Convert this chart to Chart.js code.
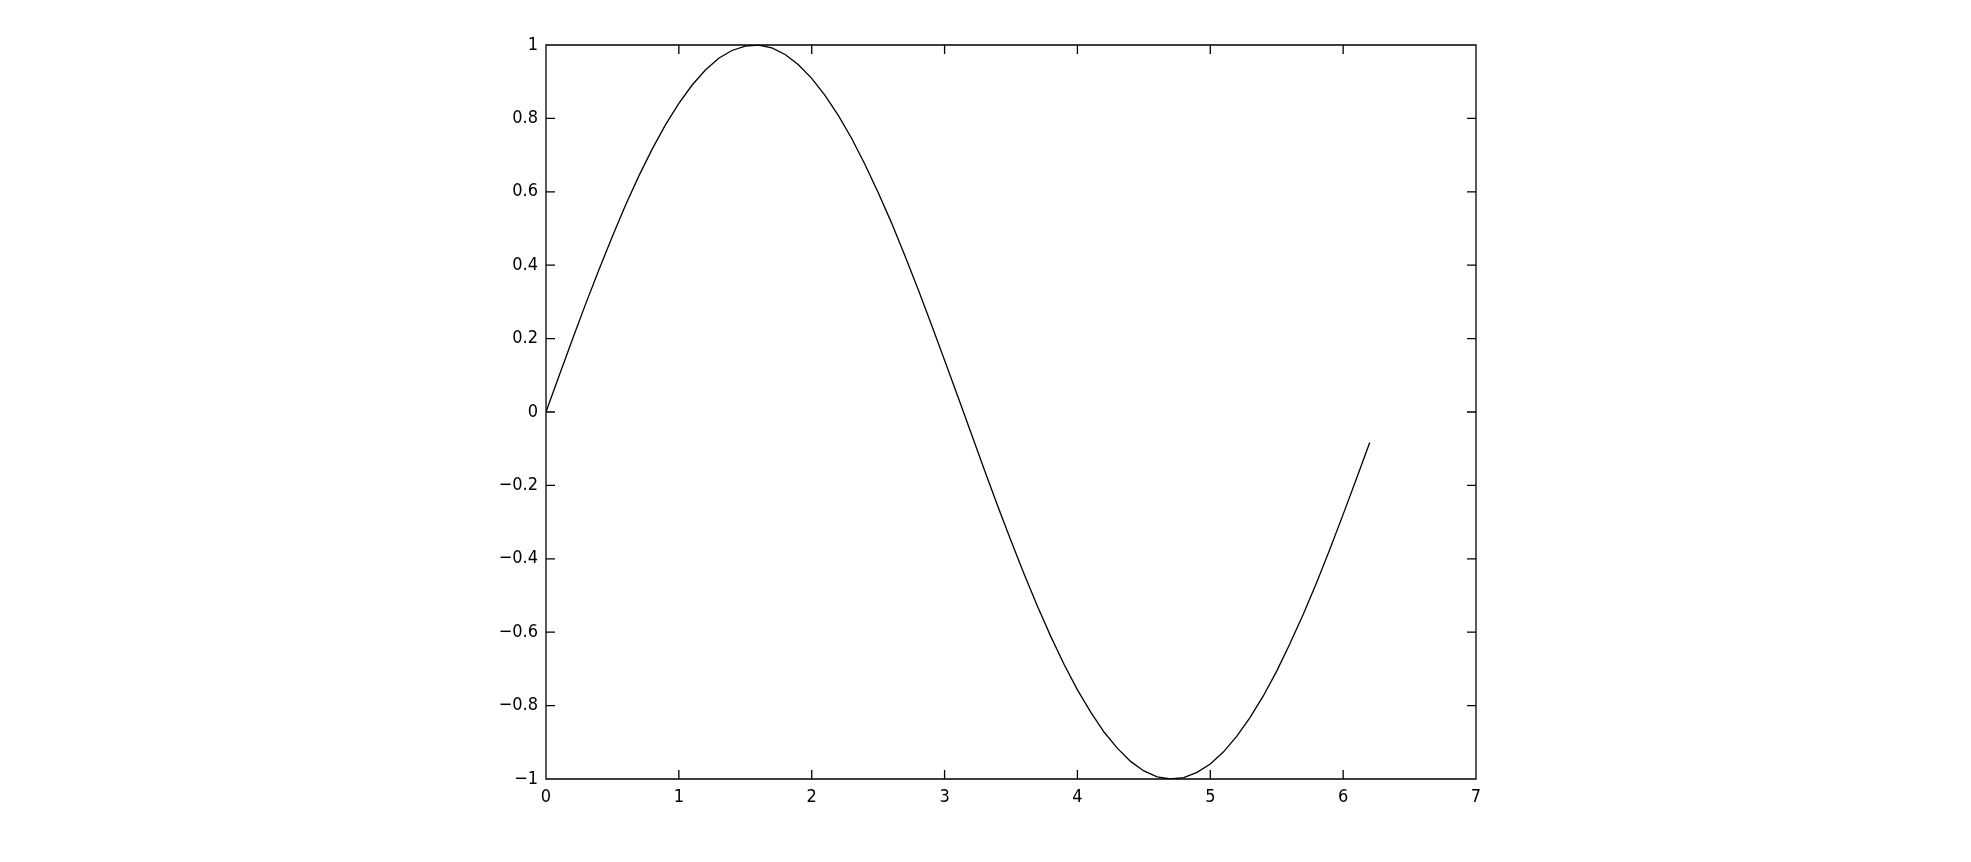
<!DOCTYPE html>
<html>
<head>
<meta charset="utf-8">
<title>sin</title>
<script src="https://cdn.jsdelivr.net/npm/chart.js@4.4.1/dist/chart.umd.min.js"></script>
<style>
    html, body { margin: 0; padding: 0; background: #fff; }
    #wrap { width: 1971px; height: 862px; }
</style>
</head>
<body>
<div id="wrap"><canvas id="plot" width="1971" height="862"></canvas></div>
<script>
// x = 0:0.1:6.2
const xValues = [
    0.0, 0.1, 0.2, 0.3, 0.4, 0.5, 0.6, 0.7, 0.8, 0.9,
    1.0, 1.1, 1.2, 1.3, 1.4, 1.5, 1.6, 1.7, 1.8, 1.9,
    2.0, 2.1, 2.2, 2.3, 2.4, 2.5, 2.6, 2.7, 2.8, 2.9,
    3.0, 3.1, 3.2, 3.3, 3.4, 3.5, 3.6, 3.7, 3.8, 3.9,
    4.0, 4.1, 4.2, 4.3, 4.4, 4.5, 4.6, 4.7, 4.8, 4.9,
    5.0, 5.1, 5.2, 5.3, 5.4, 5.5, 5.6, 5.7, 5.8, 5.9,
    6.0, 6.1, 6.2
];
const yValues = [
    0.000, 0.100, 0.199, 0.296, 0.389, 0.479, 0.565, 0.644, 0.717, 0.783,
    0.841, 0.891, 0.932, 0.964, 0.985, 0.997, 1.000, 0.992, 0.974, 0.946,
    0.909, 0.863, 0.808, 0.746, 0.675, 0.598, 0.516, 0.427, 0.335, 0.239,
    0.141, 0.042, -0.058, -0.158, -0.256, -0.351, -0.443, -0.530, -0.612, -0.688,
    -0.757, -0.818, -0.872, -0.916, -0.952, -0.978, -0.994, -1.000, -0.996, -0.982,
    -0.959, -0.926, -0.883, -0.832, -0.773, -0.706, -0.631, -0.551, -0.465, -0.374,
    -0.279, -0.182, -0.083
];

const xTicks = [0, 1, 2, 3, 4, 5, 6, 7];
const xTickLabels = ['0', '1', '2', '3', '4', '5', '6', '7'];
const yTicks = [-1, -0.8, -0.6, -0.4, -0.2, 0, 0.2, 0.4, 0.6, 0.8, 1];
const yTickLabels = ['\u22121', '\u22120.8', '\u22120.6', '\u22120.4', '\u22120.2', '0', '0.2', '0.4', '0.6', '0.8', '1'];

const tickFont = { family: '"DejaVu Sans Condensed", "DejaVu Sans", sans-serif', size: 18 };

// box round the axes with inward tick marks on all four sides
const boxPlugin = {
    id: 'box',
    afterDraw(chart) {
        const ctx = chart.ctx;
        const a = chart.chartArea;
        const xs = chart.scales.x;
        const ys = chart.scales.y;
        const len = 9;
        ctx.save();
        ctx.strokeStyle = '#000';
        ctx.lineWidth = 1.3;
        ctx.beginPath();
        ctx.rect(a.left, a.top, a.right - a.left, a.bottom - a.top);
        xTicks.forEach(v => {
            const px = xs.getPixelForValue(v);
            ctx.moveTo(px, a.bottom);
            ctx.lineTo(px, a.bottom - len);
            ctx.moveTo(px, a.top);
            ctx.lineTo(px, a.top + len);
        });
        yTicks.forEach(v => {
            const py = ys.getPixelForValue(v);
            ctx.moveTo(a.left, py);
            ctx.lineTo(a.left + len, py);
            ctx.moveTo(a.right, py);
            ctx.lineTo(a.right - len, py);
        });
        ctx.stroke();
        ctx.restore();
    }
};

const points = xValues.map((x, i) => ({ x: x, y: yValues[i] }));

new Chart(document.getElementById('plot'), {
    type: 'line',
    data: {
        datasets: [{
            data: points,
            borderColor: '#000',
            borderWidth: 1.3,
            pointRadius: 0,
            tension: 0,
            fill: false
        }]
    },
    options: {
        responsive: false,
        animation: false,
        devicePixelRatio: 1,
        layout: { padding: { left: 486, right: 495, top: 45, bottom: 43 } },
        plugins: {
            legend: { display: false },
            tooltip: { enabled: false }
        },
        scales: {
            x: {
                type: 'linear',
                min: 0,
                max: 7,
                afterBuildTicks: s => { s.ticks = xTicks.map(v => ({ value: v })); },
                afterFit: s => { s.height = 40; },
                grid: { display: false, drawTicks: false },
                border: { display: false },
                ticks: {
                    color: '#000',
                    font: tickFont,
                    padding: 8,
                    maxRotation: 0,
                    autoSkip: false,
                    callback: (v, i) => xTickLabels[i]
                }
            },
            y: {
                type: 'linear',
                min: -1,
                max: 1,
                afterBuildTicks: s => { s.ticks = yTicks.map(v => ({ value: v })); },
                afterFit: s => { s.width = 60; },
                grid: { display: false, drawTicks: false },
                border: { display: false },
                ticks: {
                    color: '#000',
                    font: tickFont,
                    padding: 8,
                    autoSkip: false,
                    callback: (v, i) => yTickLabels[i]
                }
            }
        }
    },
    plugins: [boxPlugin]
});
</script>
</body>
</html>
